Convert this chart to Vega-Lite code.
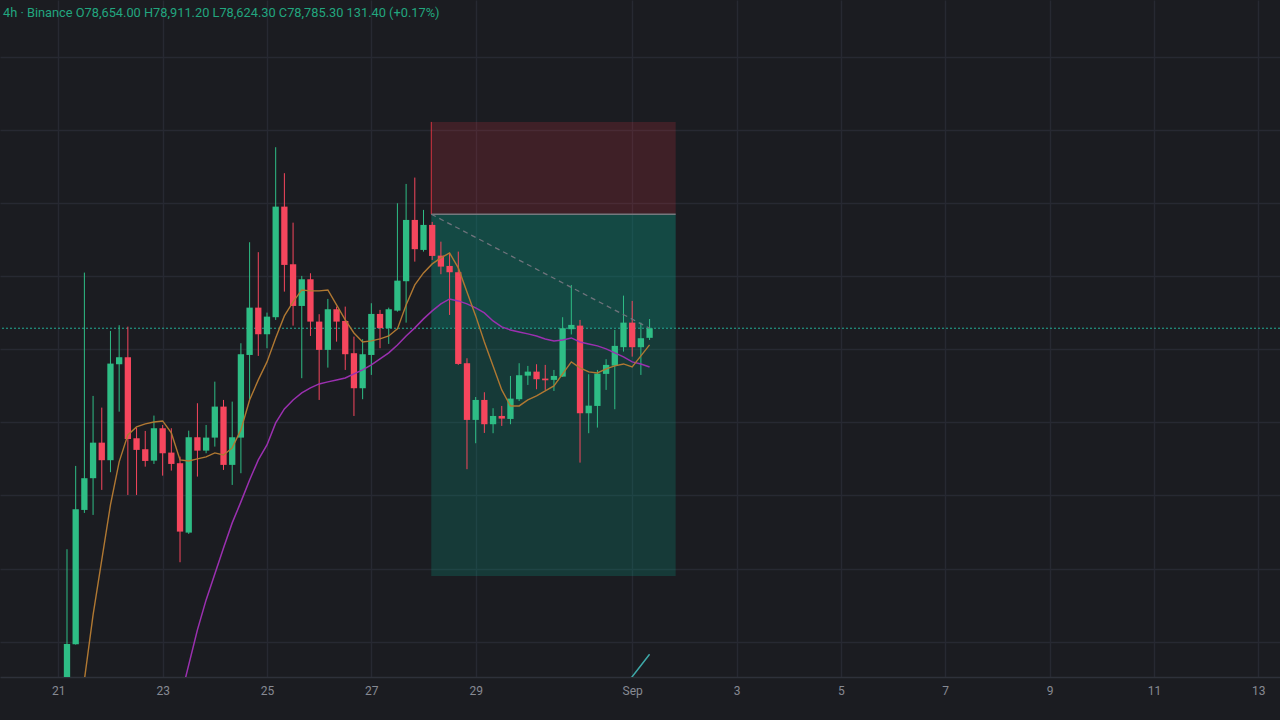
{
  "$schema": "https://vega.github.io/schema/vega-lite/v6.json",
  "width": 1280,
  "height": 677,
  "autosize": {"type": "none"},
  "padding": {"left": 0, "top": 0, "right": 0, "bottom": 43},
  "background": "#1b1c21",
  "config": {
    "view": {"stroke": null},
    "font": "Roboto",
    "axisX": {
      "grid": true,
      "gridColor": "#272932",
      "gridWidth": 1.4,
      "ticks": false,
      "tickSize": 0,
      "domain": true,
      "domainColor": "#2e313a",
      "domainWidth": 1.4,
      "labelColor": "#878a93",
      "labelFont": "Roboto",
      "labelFontSize": 12,
      "labelPadding": 8,
      "labelFlush": false,
      "labelOverlap": false
    },
    "axisY": {
      "grid": true,
      "gridColor": "#272932",
      "gridWidth": 1.4,
      "labels": false,
      "ticks": false,
      "domain": false
    }
  },
  "title": {
    "text": "4h · Binance  O78,654.00  H78,911.20  L78,624.30  C78,785.30  131.40 (+0.17%)",
    "anchor": "start",
    "frame": "group",
    "orient": "top",
    "offset": 0,
    "dy": 26,
    "baseline": "middle",
    "fontSize": 12.8,
    "font": "Roboto",
    "fontWeight": "normal",
    "color": "#22a67f",
    "dx": 3
  },
  "datasets": {
    "bars": [
      {"t":"2024-08-21T04:00:00Z","o":73950,"h":75764,"l":73900,"c":74469},
      {"t":"2024-08-21T08:00:00Z","o":74465,"h":76903,"l":74460,"c":76311},
      {"t":"2024-08-21T12:00:00Z","o":76301,"h":79546,"l":76260,"c":76735,"f":73977},
      {"t":"2024-08-21T16:00:00Z","o":76735,"h":77860,"l":76233,"c":77221,"f":74866},
      {"t":"2024-08-21T20:00:00Z","o":77221,"h":77700,"l":76575,"c":76981,"f":75618},
      {"t":"2024-08-22T00:00:00Z","o":76981,"h":78749,"l":76817,"c":78302,"f":76370},
      {"t":"2024-08-22T04:00:00Z","o":78293,"h":78827,"l":77645,"c":78389,"f":76958},
      {"t":"2024-08-22T08:00:00Z","o":78389,"h":78807,"l":76506,"c":77272,"f":77327},
      {"t":"2024-08-22T12:00:00Z","o":77281,"h":77422,"l":76506,"c":77122,"f":77436},
      {"t":"2024-08-22T16:00:00Z","o":77131,"h":77381,"l":76893,"c":76971,"f":77477},
      {"t":"2024-08-22T20:00:00Z","o":76975,"h":77591,"l":76930,"c":77418,"f":77504},
      {"t":"2024-08-23T00:00:00Z","o":77418,"h":77463,"l":76770,"c":77076,"f":77518},
      {"t":"2024-08-23T04:00:00Z","o":77085,"h":77418,"l":76839,"c":76930,"f":77354},
      {"t":"2024-08-23T08:00:00Z","o":76940,"h":77030,"l":75586,"c":76005,"f":76985,"s":73704},
      {"t":"2024-08-23T12:00:00Z","o":75991,"h":77385,"l":75973,"c":77295,"f":76971,"s":74182},
      {"t":"2024-08-23T16:00:00Z","o":77295,"h":77760,"l":76757,"c":77112,"f":76999,"s":74661},
      {"t":"2024-08-23T20:00:00Z","o":77112,"h":77463,"l":77076,"c":77290,"f":77026,"s":75071},
      {"t":"2024-08-24T00:00:00Z","o":77290,"h":78055,"l":77167,"c":77714,"f":77081,"s":75426},
      {"t":"2024-08-24T04:00:00Z","o":77714,"h":77805,"l":76848,"c":76917,"f":77053,"s":75782},
      {"t":"2024-08-24T08:00:00Z","o":76917,"h":77782,"l":76643,"c":77295,"f":77149,"s":76124},
      {"t":"2024-08-24T12:00:00Z","o":77290,"h":78580,"l":76803,"c":78430,"f":77395,"s":76411},
      {"t":"2024-08-24T16:00:00Z","o":78420,"h":79961,"l":77815,"c":79067,"f":77805,"s":76711},
      {"t":"2024-08-24T20:00:00Z","o":79067,"h":79825,"l":78407,"c":78703,"f":78079,"s":76985},
      {"t":"2024-08-25T00:00:00Z","o":78703,"h":78999,"l":78512,"c":78944,"f":78325,"s":77190},
      {"t":"2024-08-25T04:00:00Z","o":78936,"h":81260,"l":78899,"c":80448,"f":78653,"s":77491},
      {"t":"2024-08-25T08:00:00Z","o":80448,"h":80905,"l":79286,"c":79651,"f":78954,"s":77682},
      {"t":"2024-08-25T12:00:00Z","o":79660,"h":80229,"l":78821,"c":79090,"f":79145,"s":77805},
      {"t":"2024-08-25T16:00:00Z","o":79090,"h":79501,"l":78102,"c":79455,"f":79309,"s":77901},
      {"t":"2024-08-25T20:00:00Z","o":79455,"h":79537,"l":78680,"c":78876,"f":79296,"s":77969},
      {"t":"2024-08-26T00:00:00Z","o":78876,"h":78977,"l":77805,"c":78489,"f":79296,"s":78024},
      {"t":"2024-08-26T04:00:00Z","o":78489,"h":79186,"l":78247,"c":79045,"f":79309,"s":78052},
      {"t":"2024-08-26T08:00:00Z","o":79045,"h":79081,"l":78602,"c":78876,"f":79104,"s":78079},
      {"t":"2024-08-26T12:00:00Z","o":78885,"h":79081,"l":78215,"c":78430,"f":78899,"s":78106},
      {"t":"2024-08-26T16:00:00Z","o":78444,"h":78671,"l":77586,"c":77965,"f":78721,"s":78161},
      {"t":"2024-08-26T20:00:00Z","o":77965,"h":78635,"l":77815,"c":78430,"f":78598,"s":78215},
      {"t":"2024-08-27T00:00:00Z","o":78420,"h":79127,"l":78147,"c":78981,"f":78612,"s":78284},
      {"t":"2024-08-27T04:00:00Z","o":78981,"h":79036,"l":78512,"c":78786,"f":78639,"s":78366},
      {"t":"2024-08-27T08:00:00Z","o":78786,"h":79067,"l":78571,"c":79045,"f":78680,"s":78448},
      {"t":"2024-08-27T12:00:00Z","o":79026,"h":80494,"l":79012,"c":79436,"f":78776,"s":78557},
      {"t":"2024-08-27T16:00:00Z","o":79428,"h":80758,"l":78862,"c":80266,"f":79104,"s":78680},
      {"t":"2024-08-27T20:00:00Z","o":80266,"h":80845,"l":79696,"c":79866,"f":79378,"s":78790},
      {"t":"2024-08-28T00:00:00Z","o":79856,"h":80403,"l":79833,"c":80198,"f":79542,"s":78913},
      {"t":"2024-08-28T04:00:00Z","o":80198,"h":80239,"l":79719,"c":79774,"f":79665,"s":79022},
      {"t":"2024-08-28T08:00:00Z","o":79778,"h":79969,"l":79524,"c":79628,"f":79747,"s":79118},
      {"t":"2024-08-28T12:00:00Z","o":79637,"h":79811,"l":78967,"c":79551,"f":79815,"s":79186},
      {"t":"2024-08-28T16:00:00Z","o":79551,"h":79833,"l":78284,"c":78297,"f":79610,"s":79159},
      {"t":"2024-08-28T20:00:00Z","o":78307,"h":78375,"l":76858,"c":77532,"f":79282,"s":79118},
      {"t":"2024-08-29T00:00:00Z","o":77532,"h":77845,"l":77213,"c":77805,"f":78954,"s":79063},
      {"t":"2024-08-29T04:00:00Z","o":77805,"h":77910,"l":77354,"c":77473,"f":78598,"s":78995},
      {"t":"2024-08-29T08:00:00Z","o":77473,"h":77692,"l":77350,"c":77586,"f":78270,"s":78885},
      {"t":"2024-08-29T12:00:00Z","o":77586,"h":77723,"l":77450,"c":77550,"f":77942,"s":78803},
      {"t":"2024-08-29T16:00:00Z","o":77545,"h":78133,"l":77473,"c":77823,"f":77723,"s":78762},
      {"t":"2024-08-29T20:00:00Z","o":77815,"h":78307,"l":77791,"c":78143,"f":77723,"s":78735},
      {"t":"2024-08-30T00:00:00Z","o":78137,"h":78270,"l":78010,"c":78192,"f":77805,"s":78708},
      {"t":"2024-08-30T04:00:00Z","o":78192,"h":78293,"l":77951,"c":78088,"f":77860,"s":78680},
      {"t":"2024-08-30T08:00:00Z","o":78097,"h":78284,"l":77942,"c":78074,"f":77928,"s":78639},
      {"t":"2024-08-30T12:00:00Z","o":78079,"h":78215,"l":77928,"c":78133,"f":77997,"s":78612},
      {"t":"2024-08-30T16:00:00Z","o":78124,"h":78936,"l":78120,"c":78786,"f":78161,"s":78626},
      {"t":"2024-08-30T20:00:00Z","o":78772,"h":79377,"l":78700,"c":78831,"f":78325,"s":78653},
      {"t":"2024-08-31T00:00:00Z","o":78821,"h":78899,"l":76948,"c":77623,"f":78243,"s":78598},
      {"t":"2024-08-31T04:00:00Z","o":77623,"h":78157,"l":77350,"c":77727,"f":78188,"s":78571},
      {"t":"2024-08-31T08:00:00Z","o":77723,"h":78215,"l":77427,"c":78165,"f":78174,"s":78544},
      {"t":"2024-08-31T12:00:00Z","o":78161,"h":78362,"l":77942,"c":78284,"f":78229,"s":78503},
      {"t":"2024-08-31T16:00:00Z","o":78274,"h":78762,"l":77678,"c":78544,"f":78270,"s":78448},
      {"t":"2024-08-31T20:00:00Z","o":78526,"h":79231,"l":78466,"c":78862,"f":78297,"s":78393,"e":73870},
      {"t":"2024-09-01T00:00:00Z","o":78862,"h":79159,"l":78397,"c":78526,"f":78256,"s":78325,"e":74021},
      {"t":"2024-09-01T04:00:00Z","o":78526,"h":78862,"l":78147,"c":78649,"f":78407,"s":78297,"e":74175},
      {"t":"2024-09-01T08:00:00Z","o":78654,"h":78911.2,"l":78624.3,"c":78785.3,"f":78557,"s":78256,"e":74328}
    ],
    "pos": [
      {"t":"2024-08-28T03:35:00Z","t2":"2024-09-01T20:00:00Z","stop":81606,"entry":80344,"target":75399,"now":78785.3}
    ],
    "proj": [
      {"t":"2024-08-28T03:35:00Z","p":80344},
      {"t":"2024-09-01T08:00:00Z","p":78785.3}
    ]
  },
  "layer": [
    {
      "data": {"name": "pos"},
      "mark": {"type": "rect", "fill": "#f23645", "opacity": 0.17, "clip": true},
      "encoding": {
        "x": {"field": "t", "type": "temporal", "title": null, "scale": {"type": "utc", "nice": false, "padding": 0, "domain": [{"year":2024,"month":8,"date":19,"hours":21,"minutes":11,"utc":true},{"year":2024,"month":9,"date":13,"hours":10,"utc":true}]}},
        "x2": {"field": "t2"},
        "y": {"field": "entry", "type": "quantitative", "title": null, "scale": {"domain": [74017, 83273], "nice": false, "zero": false, "padding": 0}},
        "y2": {"field": "stop"}
      }
    },
    {
      "data": {"name": "pos"},
      "mark": {"type": "rect", "fill": "#089981", "opacity": 0.37, "clip": true},
      "encoding": {
        "x": {"field": "t", "type": "temporal", "title": null, "scale": {"type": "utc", "nice": false, "padding": 0, "domain": [{"year":2024,"month":8,"date":19,"hours":21,"minutes":11,"utc":true},{"year":2024,"month":9,"date":13,"hours":10,"utc":true}]}},
        "x2": {"field": "t2"},
        "y": {"field": "now", "type": "quantitative", "title": null, "scale": {"domain": [74017, 83273], "nice": false, "zero": false, "padding": 0}},
        "y2": {"field": "entry"}
      }
    },
    {
      "data": {"name": "pos"},
      "mark": {"type": "rect", "fill": "#089981", "opacity": 0.24, "clip": true},
      "encoding": {
        "x": {"field": "t", "type": "temporal", "title": null, "scale": {"type": "utc", "nice": false, "padding": 0, "domain": [{"year":2024,"month":8,"date":19,"hours":21,"minutes":11,"utc":true},{"year":2024,"month":9,"date":13,"hours":10,"utc":true}]}},
        "x2": {"field": "t2"},
        "y": {"field": "target", "type": "quantitative", "title": null, "scale": {"domain": [74017, 83273], "nice": false, "zero": false, "padding": 0}},
        "y2": {"field": "now"}
      }
    },
    {
      "data": {"name": "pos"},
      "mark": {"type": "rule", "color": "#75787e", "strokeWidth": 1.5, "clip": true},
      "encoding": {
        "x": {"field": "t", "type": "temporal", "title": null, "scale": {"type": "utc", "nice": false, "padding": 0, "domain": [{"year":2024,"month":8,"date":19,"hours":21,"minutes":11,"utc":true},{"year":2024,"month":9,"date":13,"hours":10,"utc":true}]}},
        "x2": {"field": "t2"},
        "y": {"field": "entry", "type": "quantitative", "title": null, "scale": {"domain": [74017, 83273], "nice": false, "zero": false, "padding": 0}}
      }
    },
    {
      "data": {"name": "pos"},
      "mark": {"type": "rule", "color": "#f23645", "strokeWidth": 1, "opacity": 0.85, "clip": true},
      "encoding": {
        "x": {"field": "t", "type": "temporal", "title": null, "scale": {"type": "utc", "nice": false, "padding": 0, "domain": [{"year":2024,"month":8,"date":19,"hours":21,"minutes":11,"utc":true},{"year":2024,"month":9,"date":13,"hours":10,"utc":true}]}},
        "y": {"field": "entry", "type": "quantitative", "title": null, "scale": {"domain": [74017, 83273], "nice": false, "zero": false, "padding": 0}},
        "y2": {"field": "stop"}
      }
    },
    {
      "data": {"name": "pos"},
      "mark": {"type": "rule", "color": "#22ab94", "strokeWidth": 1, "strokeDash": [2, 2], "clip": true},
      "encoding": {
        "y": {"field": "now", "type": "quantitative", "title": null, "scale": {"domain": [74017, 83273], "nice": false, "zero": false, "padding": 0}}
      }
    },
    {
      "data": {"name": "bars"},
      "mark": {"type": "rule", "strokeWidth": 1, "clip": true},
      "encoding": {
        "x": {"field": "t", "type": "temporal", "title": null, "scale": {"type": "utc", "nice": false, "padding": 0, "domain": [{"year":2024,"month":8,"date":19,"hours":21,"minutes":11,"utc":true},{"year":2024,"month":9,"date":13,"hours":10,"utc":true}]},
          "axis": {
            "values": [
              {"year":2024,"month":8,"date":21,"utc":true},
              {"year":2024,"month":8,"date":23,"utc":true},
              {"year":2024,"month":8,"date":25,"utc":true},
              {"year":2024,"month":8,"date":27,"utc":true},
              {"year":2024,"month":8,"date":29,"utc":true},
              {"year":2024,"month":9,"date":1,"utc":true},
              {"year":2024,"month":9,"date":3,"utc":true},
              {"year":2024,"month":9,"date":5,"utc":true},
              {"year":2024,"month":9,"date":7,"utc":true},
              {"year":2024,"month":9,"date":9,"utc":true},
              {"year":2024,"month":9,"date":11,"utc":true},
              {"year":2024,"month":9,"date":13,"utc":true}
            ],
            "labelExpr": "utcdate(datum.value) == 1 ? 'Sep' : '' + utcdate(datum.value)"
          }
        },
        "y": {"field": "l", "type": "quantitative", "title": null, "scale": {"domain": [74017, 83273], "nice": false, "zero": false, "padding": 0},
          "axis": {
            "values": [74500, 75000, 75500, 76000, 76500, 77000, 77500, 78000, 78500, 79000, 79500, 80000, 80500, 81000, 81500, 82000, 82500, 83000]
          }
        },
        "y2": {"field": "h"},
        "color": {"condition": {"test": "datum.c >= datum.o", "value": "#2ebd85"}, "value": "#f6465d"}
      }
    },
    {
      "data": {"name": "bars"},
      "mark": {"type": "bar", "width": 6.3, "clip": true},
      "encoding": {
        "x": {"field": "t", "type": "temporal", "title": null, "scale": {"type": "utc", "nice": false, "padding": 0, "domain": [{"year":2024,"month":8,"date":19,"hours":21,"minutes":11,"utc":true},{"year":2024,"month":9,"date":13,"hours":10,"utc":true}]}},
        "y": {"field": "o", "type": "quantitative", "title": null, "scale": {"domain": [74017, 83273], "nice": false, "zero": false, "padding": 0}},
        "y2": {"field": "c"},
        "color": {"condition": {"test": "datum.c >= datum.o", "value": "#2ebd85"}, "value": "#f6465d"}
      }
    },
    {
      "data": {"name": "bars"},
      "mark": {"type": "line", "color": "#9b30b0", "strokeWidth": 1.5, "clip": true},
      "encoding": {
        "x": {"field": "t", "type": "temporal", "title": null, "scale": {"type": "utc", "nice": false, "padding": 0, "domain": [{"year":2024,"month":8,"date":19,"hours":21,"minutes":11,"utc":true},{"year":2024,"month":9,"date":13,"hours":10,"utc":true}]}},
        "y": {"field": "s", "type": "quantitative", "title": null, "scale": {"domain": [74017, 83273], "nice": false, "zero": false, "padding": 0}}
      }
    },
    {
      "data": {"name": "bars"},
      "mark": {"type": "line", "color": "#b07832", "strokeWidth": 1.4, "clip": true},
      "encoding": {
        "x": {"field": "t", "type": "temporal", "title": null, "scale": {"type": "utc", "nice": false, "padding": 0, "domain": [{"year":2024,"month":8,"date":19,"hours":21,"minutes":11,"utc":true},{"year":2024,"month":9,"date":13,"hours":10,"utc":true}]}},
        "y": {"field": "f", "type": "quantitative", "title": null, "scale": {"domain": [74017, 83273], "nice": false, "zero": false, "padding": 0}}
      }
    },
    {
      "data": {"name": "bars"},
      "mark": {"type": "line", "color": "#3ea8a8", "strokeWidth": 1.5, "clip": true},
      "encoding": {
        "x": {"field": "t", "type": "temporal", "title": null, "scale": {"type": "utc", "nice": false, "padding": 0, "domain": [{"year":2024,"month":8,"date":19,"hours":21,"minutes":11,"utc":true},{"year":2024,"month":9,"date":13,"hours":10,"utc":true}]}},
        "y": {"field": "e", "type": "quantitative", "title": null, "scale": {"domain": [74017, 83273], "nice": false, "zero": false, "padding": 0}}
      }
    },
    {
      "data": {"name": "proj"},
      "mark": {"type": "line", "color": "#6f737c", "strokeWidth": 1.3, "strokeDash": [5, 4], "clip": true},
      "encoding": {
        "x": {"field": "t", "type": "temporal", "title": null, "scale": {"type": "utc", "nice": false, "padding": 0, "domain": [{"year":2024,"month":8,"date":19,"hours":21,"minutes":11,"utc":true},{"year":2024,"month":9,"date":13,"hours":10,"utc":true}]}},
        "y": {"field": "p", "type": "quantitative", "title": null, "scale": {"domain": [74017, 83273], "nice": false, "zero": false, "padding": 0}}
      }
    }
  ]
}
